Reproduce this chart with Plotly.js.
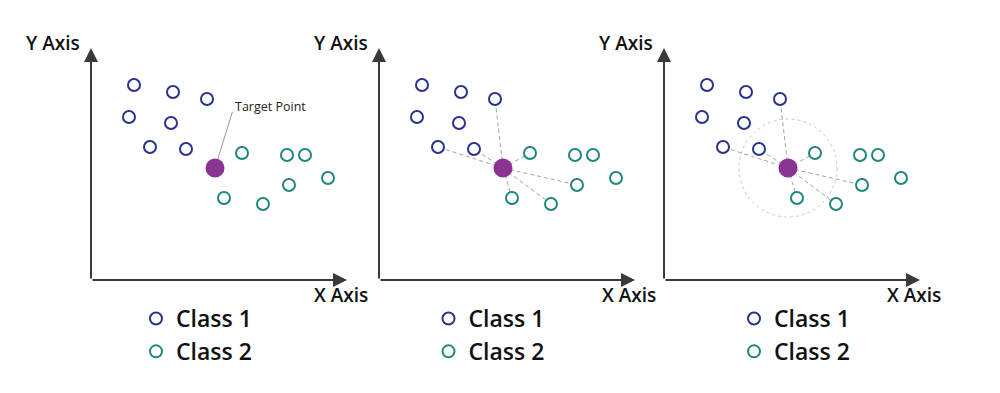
<!DOCTYPE html>
<html>
<head>
<meta charset="utf-8">
<script src="https://cdn.plot.ly/plotly-3.0.1.min.js"></script>
<style>html,body{margin:0;padding:0;background:#fff}#chart{width:1000px;height:393px}</style>
</head>
<body>
<div id="chart"></div>
<script>
// ---- data (generic feature space units) ----
const class1X = [43, 82, 116, 38, 80, 59, 95];
const class1Y = [195, 188, 181, 163, 157, 133, 131];
const class2X = [151, 196, 214, 237, 198, 133, 172];
const class2Y = [127, 125, 125, 102, 95, 82, 76];
const targetX = [124];
const targetY = [112];
const nearestClass1 = [2, 5, 6];      // indices of class 1 points linked to target
const nearestClass2 = [0, 4, 5, 6];   // indices of class 2 points linked to target
const kRadius = 49;                   // radius of neighbourhood circle (panel 3)
const seriesNames = ['Class 1', 'Class 2'];
const axisTitles = ['X Axis', 'Y Axis'];
const targetLabel = 'Target Point';

// ---- styles ----
const C1 = '#27348b', C2 = '#1f877e', CT = '#8a3391', AX = '#3a3a3a';
const XR = [0, 256], YR = [0, 232];
const panelDomains = [[0.091, 0.347], [0.379, 0.635], [0.664, 0.920]];
const yDomain = [113 / 393, 345 / 393];
const FONT = 'Open Sans, Noto Sans, sans-serif';

const traces = [];
const shapes = [];
const annotations = [];
const layout = {
  width: 1000, height: 393,
  margin: {l: 0, r: 0, t: 0, b: 0},
  paper_bgcolor: '#fff', plot_bgcolor: 'rgba(0,0,0,0)',
  showlegend: true,
  font: {family: FONT, color: '#111'}
};

const legendLeft = [136, 428.5, 734];

for (let p = 0; p < 3; p++) {
  const sfx = p === 0 ? '' : String(p + 1);
  const xa = 'x' + sfx, ya = 'y' + sfx;
  const lg = 'legend' + sfx;
  layout['xaxis' + sfx] = {domain: panelDomains[p], range: XR, visible: false, fixedrange: true, anchor: ya};
  layout['yaxis' + sfx] = {domain: yDomain, range: YR, visible: false, fixedrange: true, anchor: xa};
  layout[lg] = {
    x: legendLeft[p] / 1000, xanchor: 'left', y: 1 - 297 / 393, yanchor: 'top',
    bgcolor: 'rgba(0,0,0,0)', font: {family: FONT, size: 23, color: '#111', weight: 600},
    itemclick: false, itemdoubleclick: false, tracegroupgap: 0
  };

  // distance lines (panels 2 and 3)
  if (p > 0) {
    const lx = [], ly = [];
    nearestClass1.forEach(i => { lx.push(targetX[0], class1X[i], null); ly.push(targetY[0], class1Y[i], null); });
    nearestClass2.forEach(i => { lx.push(targetX[0], class2X[i], null); ly.push(targetY[0], class2Y[i], null); });
    traces.push({x: lx, y: ly, xaxis: xa, yaxis: ya, mode: 'lines', showlegend: false, hoverinfo: 'skip',
      line: {color: '#a3a3a3', width: 1, dash: '4px,3px'}});
  }

  traces.push({x: class1X, y: class1Y, xaxis: xa, yaxis: ya, mode: 'markers', name: seriesNames[0], legend: lg,
    marker: {symbol: 'circle', size: 12, color: '#fff', line: {color: C1, width: 2}}});
  traces.push({x: class2X, y: class2Y, xaxis: xa, yaxis: ya, mode: 'markers', name: seriesNames[1], legend: lg,
    marker: {symbol: 'circle', size: 12, color: '#fff', line: {color: C2, width: 2}}});
  traces.push({x: targetX, y: targetY, xaxis: xa, yaxis: ya, mode: 'markers', name: targetLabel, showlegend: false,
    marker: {symbol: 'circle', size: 19, color: CT}});

  // axis arrows
  annotations.push({xref: xa, yref: ya, axref: xa, ayref: ya, x: XR[1], y: 0, ax: 0, ay: 0, text: '',
    showarrow: true, arrowhead: 2, arrowsize: 1.4, arrowwidth: 2, arrowcolor: AX, standoff: 0, startstandoff: 0});
  annotations.push({xref: xa, yref: ya, axref: xa, ayref: ya, x: 0, y: YR[1], ax: 0, ay: 0, text: '',
    showarrow: true, arrowhead: 2, arrowsize: 1.4, arrowwidth: 2, arrowcolor: AX, standoff: 0, startstandoff: 0});
  // axis titles
  annotations.push({xref: xa + ' domain', yref: ya + ' domain', x: 279 / 256, y: -15 / 232, xanchor: 'right', yanchor: 'middle',
    text: axisTitles[0], showarrow: false, font: {family: FONT, size: 19, color: '#111', weight: 600}});
  annotations.push({xref: xa + ' domain', yref: ya + ' domain', x: -9 / 256, y: 237 / 232, xanchor: 'right', yanchor: 'middle',
    text: axisTitles[1], showarrow: false, font: {family: FONT, size: 19, color: '#111', weight: 600}});

  if (p === 2) {
    shapes.push({type: 'circle', xref: xa, yref: ya, layer: 'below',
      x0: targetX[0] - kRadius, x1: targetX[0] + kRadius, y0: targetY[0] - kRadius, y1: targetY[0] + kRadius,
      line: {color: '#c9c9c9', width: 1, dash: '3px,3px'}});
  }
  if (p === 0) {
    const lblX = targetX[0] + 18, lblY = targetY[0] + 58;
    const dx = lblX - 0.6 - targetX[0], dy = lblY - 2 - targetY[0];
    const d = Math.hypot(dx, dy);
    shapes.push({type: 'line', xref: xa, yref: ya, layer: 'below',
      x0: targetX[0] + dx / d * 9, y0: targetY[0] + dy / d * 9, x1: lblX - 0.6, y1: lblY - 2,
      line: {color: '#9a9a9a', width: 1}});
    annotations.push({xref: xa, yref: ya, x: lblX, y: lblY + 4, xanchor: 'left', yanchor: 'middle',
      text: targetLabel, showarrow: false, font: {family: FONT, size: 12.5, color: '#222'}});
  }
}
layout.shapes = shapes;
layout.annotations = annotations;

Plotly.newPlot('chart', traces, layout, {displayModeBar: false, staticPlot: true});
</script>
</body>
</html>
